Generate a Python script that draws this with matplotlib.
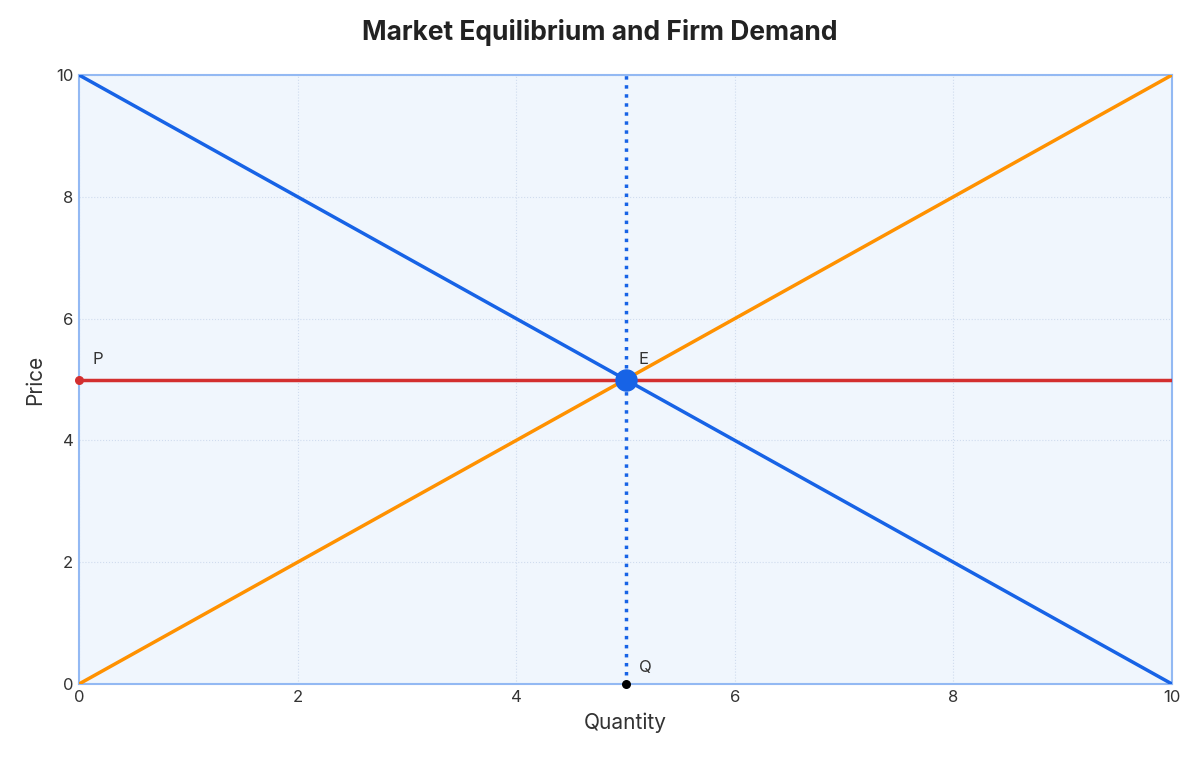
import matplotlib
matplotlib.use("Agg")
import matplotlib.pyplot as plt

plt.rcParams['font.family'] = ['Inter', 'DejaVu Sans']

# data
qty = [0, 10]
demand = [10, 0]
supply = [0, 10]
price_eq = 5
qty_eq = 5
ticks = [0, 2, 4, 6, 8, 10]

fig = plt.figure(figsize=(12, 7.61), dpi=100)
ax = fig.add_axes([79 / 1200, 1 - 684 / 761, (1172 - 79) / 1200, (684 - 75) / 761])
ax.set_facecolor('#f0f6fd')

ax.plot(qty, demand, color='#1763e6', lw=2.5, zorder=3)
ax.plot(qty, supply, color='#ff9100', lw=2.5, zorder=3)
ax.axhline(price_eq, color='#d32f2f', lw=2.5, zorder=4)
ax.axvline(qty_eq, color='#1763e6', lw=2.5, ls=(0, (1, 1.6)), zorder=2)

ax.scatter([qty_eq], [price_eq], s=230, color='#1763e6', zorder=6, clip_on=False)
ax.scatter([0], [price_eq], s=30, color='#d32f2f', zorder=6, clip_on=False)
ax.scatter([qty_eq], [0], s=30, color='black', zorder=6, clip_on=False)

ax.text(0.12, 5.25, 'P', fontsize=12, color='#333333')
ax.text(5.12, 5.25, 'E', fontsize=12, color='#333333')
ax.text(5.12, 0.2, 'Q', fontsize=12, color='#333333')

ax.set_xlim(0, 10)
ax.set_ylim(0, 10)
ax.set_xticks(ticks)
ax.set_yticks(ticks)
ax.tick_params(length=0, labelsize=12, colors='#333333', pad=4)
ax.grid(True, ls=':', color='#d0dcee', lw=0.8)
for s in ax.spines.values():
    s.set_color('#93b9f3')
    s.set_linewidth(1.5)

ax.set_xlabel('Quantity', fontsize=15, color='#333333', labelpad=6)
ax.set_ylabel('Price', fontsize=15, color='#333333', labelpad=8)
fig.suptitle('Market Equilibrium and Firm Demand', fontsize=19, fontweight='bold',
             color='#222222', y=0.975)

fig.savefig('out.png', dpi=100)
